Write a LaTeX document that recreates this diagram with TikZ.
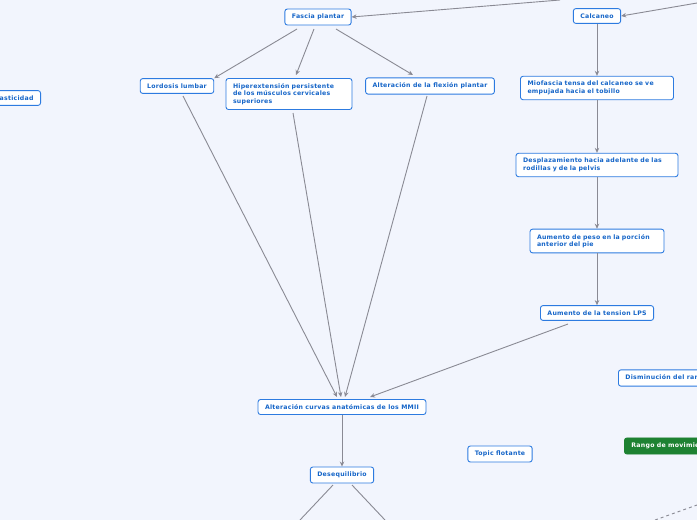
\documentclass[tikz,border=0pt]{standalone}
\usepackage{fontspec}
\setmainfont{DejaVu Sans}[LetterSpace=4]
\usetikzlibrary{arrows.meta}
\hyphenpenalty=10000
\definecolor{bg}{HTML}{F2F5FD}
\definecolor{bl}{HTML}{2D7BE0}
\definecolor{tx}{HTML}{1565C8}
\definecolor{ln}{HTML}{8A8A94}
\definecolor{gr}{HTML}{1E8232}
\tikzset{
 topic/.style={draw=bl,line width=0.9pt,rounded corners=2.5pt,fill=white,text=tx,font=\bfseries\fontsize{6.2}{7.4}\selectfont,inner xsep=7pt,inner ysep=5pt,align=left},
 conn/.style={draw=ln,line width=0.9pt,-{Stealth[length=5pt,width=4.5pt]}},
 plain/.style={draw=ln,line width=0.9pt}
}
\begin{document}
\begin{tikzpicture}[x=1pt,y=-1pt]
\fill[bg] (0,0) rectangle (697,520);
\clip (0,0) rectangle (697,520);
\useasboundingbox (0,0) rectangle (697,520);
\node[topic] (fp) at (318,17) {Fascia plantar};
\node[topic] (ca) at (597,16) {Calcaneo};
\node[topic] (ll) at (177,86) {Lordosis lumbar};
\node[topic,text width=112pt] (hi) at (289,94) {Hiperextensión persistente de los músculos cervicales superiores};
\node[topic] (af) at (430,86) {Alteración de la flexión plantar};
\node[topic,anchor=east] (el) at (41,98) {Elasticidad};
\node[topic,text width=139pt] (mi) at (597,88) {Miofascia tensa del calcaneo se ve empujada hacia el tobillo};
\node[topic,text width=148pt] (de) at (597,165) {Desplazamiento hacia adelante de las rodillas y de la pelvis};
\node[topic,text width=120pt] (ap) at (597,241) {Aumento de peso en la porción anterior del pie};
\node[topic] (at) at (597,313) {Aumento de la tension LPS};
\node[topic,anchor=west] (di) at (618,378) {Disminución del rango};
\node[topic,anchor=west,fill=gr,draw=gr,text=white] (ra) at (624,446) {Rango de movimiento};
\node[topic] (ac) at (342,407) {Alteración curvas anatómicas de los MMII};
\node[topic] (tf) at (500,454) {Topic flotante};
\node[topic] (dq) at (342,475) {Desequilibrio};
\coordinate (s1) at (560,0);
\coordinate (s2) at (697,3);
\coordinate (e1) at (300,520);
\coordinate (e2) at (385,520);
\coordinate (d1) at (655,520);
\coordinate (d2) at (697,505);
\draw[conn] (s1) -- (fp.east);
\draw[conn] (s2) -- (ca.east);
\draw[conn] (297,29) -- (ll.north east);
\draw[conn] (314,29) -- (296,75);
\draw[conn] (336,29) -- (413,75);
\draw[conn] (ca) -- (mi);
\draw[conn] (mi) -- (de);
\draw[conn] (de) -- (ap);
\draw[conn] (ap) -- (at);
\draw[conn] (183,96) -- (337,397);
\draw[conn] (293,113) -- (341,397);
\draw[conn] (427,96) -- (345,397);
\draw[conn] (568,324) -- (370,397);
\draw[conn] (ac) -- (dq);
\draw[plain] (333,485) -- (e1);
\draw[plain] (352,485) -- (e2);
\draw[plain,dashed] (d1) -- (d2);
\end{tikzpicture}
\end{document}
